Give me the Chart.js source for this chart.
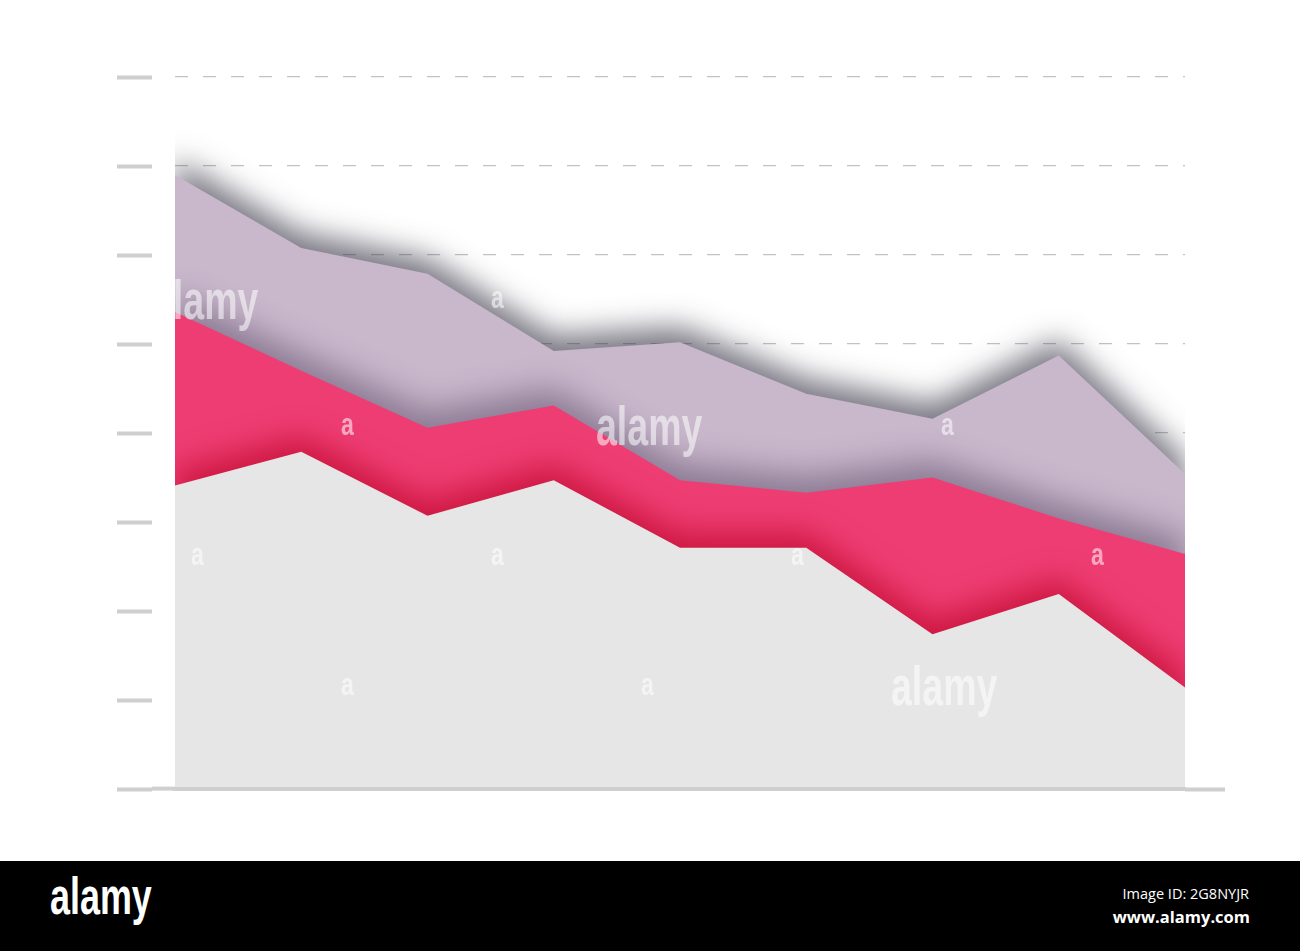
<!DOCTYPE html>
<html>
<head>
<meta charset="utf-8">
<script src="https://cdn.jsdelivr.net/npm/chart.js@4/dist/chart.umd.min.js"></script>
<style>
  html, body { margin: 0; padding: 0; background: #fff; }
  #wrap { position: relative; width: 1300px; height: 951px; overflow: hidden; }
  #chartBox { position: absolute; left: 0; top: 0; width: 1300px; height: 861px; }
  .wm { position: absolute; color: rgba(255,255,255,0.55); font-family: "Liberation Sans", Arial, sans-serif;
        font-weight: bold; line-height: 1; transform-origin: 0 0; white-space: nowrap; pointer-events: none; }
  .wm.big { font-size: 56px; transform: scaleX(0.67); }
  .wm.small { font-size: 32px; transform: scaleX(0.72); }
  #footer { position: absolute; left: 0; top: 861px; width: 1300px; height: 90px; background: #000; }
  #logo { position: absolute; left: 50px; top: 9px; color: #fff; font-family: "Liberation Sans", Arial, sans-serif;
          font-weight: bold; font-size: 52px; line-height: 1; transform: scaleX(0.69); transform-origin: 0 0; }
  #imgid { position: absolute; right: 51px; top: 23px; color: #fff; font-family: "Open Sans", sans-serif; font-size: 14.5px; }
  #site { position: absolute; right: 50px; top: 44px; color: #fff; font-family: "Open Sans", sans-serif; font-size: 16.5px; font-weight: bold; }
</style>
</head>
<body>
<div id="wrap">
  <div id="chartBox"><canvas id="chart" width="1300" height="861"></canvas></div>

  <div class="wm big" style="left:152px; top:272px;">alamy</div>
  <div class="wm big" style="left:596px; top:398px;">alamy</div>
  <div class="wm big" style="left:891px; top:658px;">alamy</div>
  <div class="wm small" style="left:191px; top:538px;">a</div>
  <div class="wm small" style="left:341px; top:408px;">a</div>
  <div class="wm small" style="left:491px; top:281px;">a</div>
  <div class="wm small" style="left:491px; top:538px;">a</div>
  <div class="wm small" style="left:791px; top:538px;">a</div>
  <div class="wm small" style="left:1091px; top:538px;">a</div>
  <div class="wm small" style="left:941px; top:408px;">a</div>
  <div class="wm small" style="left:341px; top:668px;">a</div>
  <div class="wm small" style="left:641px; top:668px;">a</div>

  <div id="footer">
    <div id="logo">alamy</div>
    <div id="imgid">Image ID: 2G8NYJR</div>
    <div id="site">www.alamy.com</div>
  </div>
</div>

<script>
// -------- Data --------
const categories = ['1', '2', '3', '4', '5', '6', '7', '8', '9'];
const baseLayer   = [3.41, 3.79, 3.07, 3.47, 2.71, 2.71, 1.74, 2.19, 1.14];
const middleLayer = [1.95, 0.91, 0.99, 0.84, 0.76, 0.62, 1.76, 0.85, 1.50];
const topLayer    = [1.54, 1.38, 1.73, 0.61, 1.55, 1.11, 0.66, 1.83, 0.90];
const yTicks = [0, 1, 2, 3, 4, 5, 6, 7, 8];

// -------- Style --------
const LAYER_COLORS = ['#e6e6e6', '#ee3d73', '#c9b8cc'];
const LAYER_SHADOWS = [
  { color: 'rgba(185,0,35,0.62)', blur: 30, offsetY: -15 },
  { color: 'rgba(55,35,70,0.42)', blur: 32, offsetY: -17 },
  { color: 'rgba(55,52,68,0.68)', blur: 30, offsetY: -15 },
];
const AXIS_GRAY = '#cfcfcf';

function setShadow(ctx, idx) {
  const s = LAYER_SHADOWS[idx];
  if (!s) {
    ctx.shadowColor = 'rgba(0,0,0,0)';
    ctx.shadowBlur = 0;
    ctx.shadowOffsetY = 0;
    return;
  }
  ctx.shadowColor = s.color;
  ctx.shadowBlur = s.blur;
  ctx.shadowOffsetX = 0;
  ctx.shadowOffsetY = s.offsetY;
}

// each layer casts a soft shadow upward onto whatever lies behind it.
// datasets are drawn last-index-first, and the filler paints inside
// beforeDatasetDraw, so the shadow for the next one is set after each draw.
const layerShadow = {
  id: 'layerShadow',
  beforeDatasetsDraw(chart) {
    chart.ctx.save();
    setShadow(chart.ctx, chart.data.datasets.length - 1);
  },
  afterDatasetDraw(chart, args) {
    setShadow(chart.ctx, args.index - 1);
  },
  afterDatasetsDraw(chart) {
    chart.ctx.restore();
  }
};

function layer(label, data, idx) {
  return {
    label,
    data,
    fill: 'origin',
    backgroundColor: LAYER_COLORS[idx],
    borderWidth: 0,
    pointRadius: 0,
    pointHoverRadius: 0,
    tension: 0,
  };
}

const hiddenTicks = { display: false, stepSize: 1 };
const onlyZero = (c) => (c.tick && c.tick.value === 0 ? AXIS_GRAY : 'rgba(0,0,0,0)');

new Chart(document.getElementById('chart'), {
  type: 'line',
  data: {
    labels: categories,
    datasets: [
      layer('base', baseLayer, 0),
      layer('middle', middleLayer, 1),
      layer('top', topLayer, 2),
    ]
  },
  options: {
    responsive: false,
    animation: false,
    events: [],
    layout: { padding: { left: 117, right: 75, top: 77, bottom: 72 } },
    plugins: { legend: { display: false }, tooltip: { enabled: false } },
    scales: {
      x: {
        type: 'category',
        offset: false,
        ticks: { display: false },
        grid: { display: false, drawTicks: false },
        border: { display: true, color: AXIS_GRAY, width: 4, z: 1 },
        afterFit: (s) => { s.height = 0; }
      },
      // inner axis: dashed gridlines, plus the baseline stub between the tick marks and the plot
      y: {
        stacked: true,
        position: 'left',
        weight: 0,
        min: yTicks[0],
        max: yTicks[yTicks.length - 1],
        ticks: hiddenTicks,
        grid: {
          color: '#c2c2c2',
          lineWidth: 1.2,
          drawTicks: true,
          tickLength: 23,
          tickWidth: 4,
          tickColor: onlyZero
        },
        border: { display: false, dash: [13, 15], dashOffset: 0 },
        afterFit: (s) => { s.width = 23; }
      },
      // outer axis: the short grey tick marks
      yTicks: {
        position: 'left',
        weight: 1,
        min: yTicks[0],
        max: yTicks[yTicks.length - 1],
        ticks: hiddenTicks,
        grid: {
          drawOnChartArea: false,
          drawTicks: true,
          tickLength: 35,
          tickWidth: 4,
          tickColor: AXIS_GRAY
        },
        border: { display: false },
        afterFit: (s) => { s.width = 35; }
      },
      // right side: baseline runs past the plot
      yRight: {
        position: 'right',
        min: yTicks[0],
        max: yTicks[yTicks.length - 1],
        ticks: hiddenTicks,
        grid: {
          drawOnChartArea: false,
          drawTicks: true,
          tickLength: 40,
          tickWidth: 4,
          tickColor: onlyZero
        },
        border: { display: false },
        afterFit: (s) => { s.width = 40; }
      }
    }
  },
  plugins: [layerShadow]
});
</script>
</body>
</html>
